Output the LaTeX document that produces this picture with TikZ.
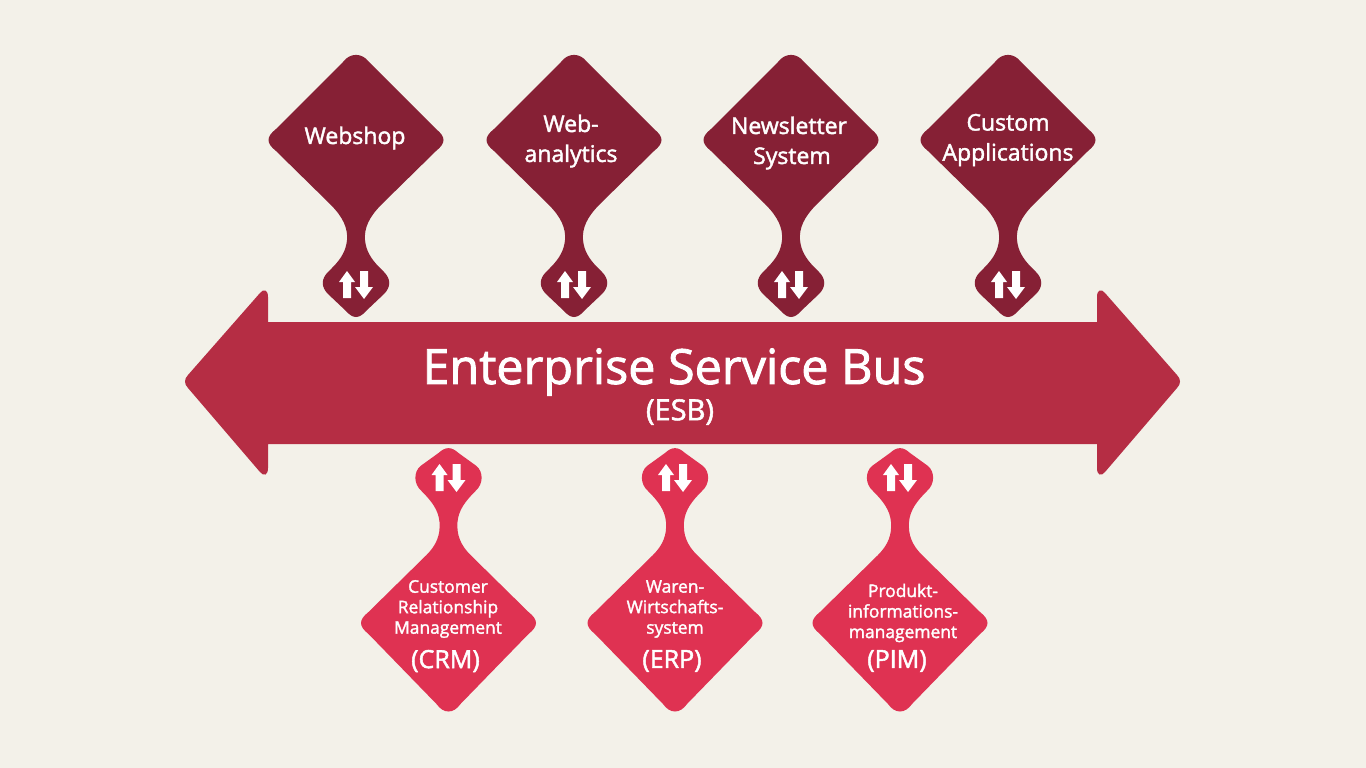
\documentclass[tikz,border=0pt]{standalone}
\usepackage{fontspec}
\setmainfont{Open Sans}[FakeBold=1.8]
\definecolor{paper}{HTML}{F3F1E9}
\definecolor{busred}{HTML}{B52D44}
\definecolor{topred}{HTML}{862035}
\definecolor{lowred}{HTML}{DF3252}
\tikzset{
	label/.style={text=white,align=center,inner sep=0pt,font=\fontsize{23}{30}\selectfont},
	small label/.style={label,font=\fontsize{17.4}{20.5}\selectfont},
	short label/.style={label,font=\fontsize{25}{30}\selectfont},
	pics/topdrop/.style={code={
		\fill[topred] (13,-78) .. controls (6,-87.5) and (-6,-87.5) .. (-13,-78)
			-- (-80,-11) .. controls (-90,-3) and (-90,3) .. (-80,11)
			-- (-26,64) .. controls (-13,77) and (-8,88) .. (-9,100)
			.. controls (-10,110) and (-14,118) .. (-24,128)
			-- (-28,132) .. controls (-35,139) and (-35,147) .. (-28,154)
			-- (-10,171) .. controls (-3,179) and (3,179) .. (10,171)
			-- (28,154) .. controls (35,147) and (35,139) .. (28,132)
			-- (24,128) .. controls (14,118) and (10,110) .. (9,100)
			.. controls (8,88) and (13,77) .. (26,64)
			-- (80,11) .. controls (90,3) and (90,-3) .. (80,-11) -- cycle;
	}},
	pics/lowdrop/.style={code={
		\fill[lowred] (12,81) .. controls (5,91) and (-5,91) .. (-12,81)
			-- (-80,11) .. controls (-90,3) and (-90,-3) .. (-80,-11)
			-- (-22,-68) .. controls (-12,-78) and (-8,-88) .. (-9,-101)
			.. controls (-10,-113) and (-17,-122) .. (-27,-132)
			.. controls (-35,-139) and (-35,-151) .. (-28,-157)
			-- (-10,-170) .. controls (-3,-176.5) and (3,-176.5) .. (10,-170)
			-- (28,-157) .. controls (35,-151) and (35,-139) .. (27,-132)
			.. controls (17,-122) and (10,-113) .. (9,-101)
			.. controls (8,-88) and (12,-78) .. (22,-68)
			-- (80,-11) .. controls (90,-3) and (90,3) .. (80,11) -- cycle;
	}},
	pics/updown/.style={code={
		\fill[white] (-9,-14) -- (-1,-3) -- (-5,-3) -- (-5,13) -- (-13,13) -- (-13,-3) -- (-17,-3) -- cycle;
		\fill[white] (8,14) -- (-1,2) -- (4,2) -- (4,-14) -- (12,-14) -- (12,2) -- (17,2) -- cycle;
	}}
}
\begin{document}
\begin{tikzpicture}[x=1pt,y=-1pt]
\useasboundingbox (0,0) rectangle (1366,768);
\fill[paper] (0,0) rectangle (1366,768);

% upper systems
\foreach \cx/\tx/\ty/\nm/\txt in {356/355/138/webshop/Webshop,
	574/571/141/analytics/{Web-\\analytics},
	791/789/143/newsletter/{Newsletter\\\ System},
	1008/1008/140/custom/{Custom\\Applications}} {
	\path (\cx,140) pic {topdrop};
	\path (\cx,285) pic {updown};
	\node[label] (\nm) at (\tx,\ty) {\txt};
}

% lower systems
\foreach \cx/\tx/\ty/\nm/\txt/\ab in {448.5/448/609/crm/{Customer\\Relationship\\Management}/CRM,
	675/675/609/erp/{Waren-\\Wirtschafts-\\system}/ERP,
	900/903/613/pim/{Produkt-\\informations-\\management}/PIM} {
	\path (\cx,623) pic {lowdrop};
	\path (\cx,478) pic {updown};
	\node[small label] (\nm) at (\tx,\ty) {\txt};
	\node[short label] (\nm short) at (\cx-3,661) {(\ab)};
}

% the bus
\fill[busred] (268,322) -- (1097,322) -- (1097,297)
	.. controls (1097,290) and (1101,288) .. (1105,293)
	-- (1177,375) .. controls (1181,379) and (1181,384) .. (1177,388)
	-- (1105,472) .. controls (1101,477) and (1097,475) .. (1097,468)
	-- (1097,444) -- (268,444) -- (268,468)
	.. controls (268,475) and (264,477) .. (260,472)
	-- (188,388) .. controls (184,384) and (184,379) .. (188,375)
	-- (260,293) .. controls (264,288) and (268,290) .. (268,297) -- cycle;
\node[label,font=\fontsize{48.5}{50}\selectfont] (esb) at (674,372) {Enterprise Service Bus};
\node[label,font=\fontsize{29}{30}\selectfont] (esb short) at (680,412) {(ESB)};
\end{tikzpicture}
\end{document}
